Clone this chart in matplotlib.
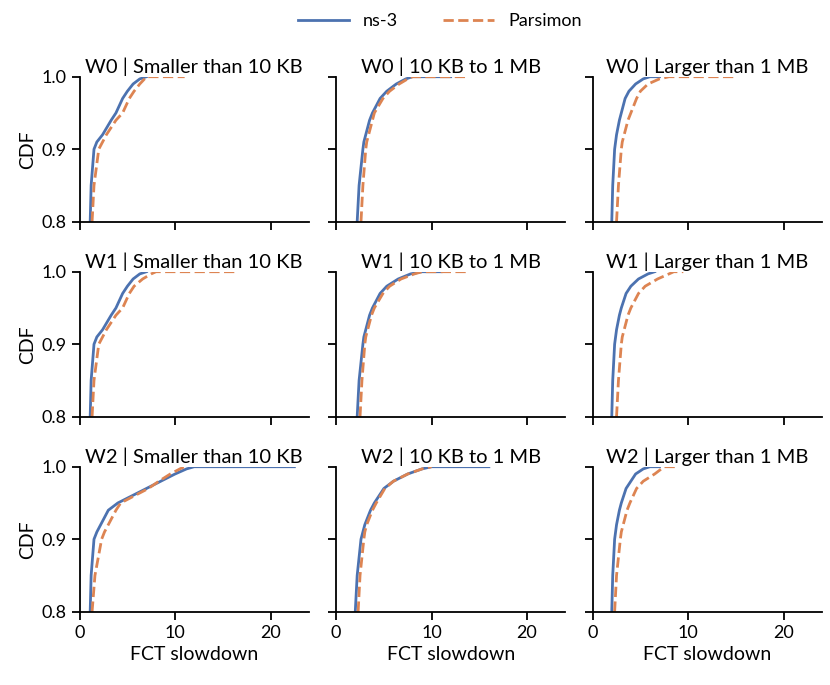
import matplotlib
matplotlib.use("Agg")
import matplotlib.pyplot as plt

levels = [0.8, 0.85, 0.9, 0.91, 0.92, 0.94, 0.95, 0.97, 0.98, 0.99, 0.997, 1.0, 1.0]
workloads = ["W0", "W1", "W2"]
buckets = ["Smaller than 10 KB", "10 KB to 1 MB", "Larger than 1 MB"]

ns3 = {
    ("W0", 0): [1.1, 1.2, 1.5, 1.8, 2.4, 3.3, 3.8, 4.5, 5.0, 5.6, 6.3, 7.0, 7.0],
    ("W0", 1): [2.2, 2.4, 2.8, 2.9, 3.1, 3.5, 3.8, 4.6, 5.3, 6.3, 7.3, 8.0, 12.0],
    ("W0", 2): [2.0, 2.1, 2.3, 2.4, 2.5, 2.8, 3.0, 3.4, 3.8, 4.5, 5.3, 6.0, 7.0],
    ("W1", 0): [1.1, 1.2, 1.5, 1.8, 2.4, 3.3, 3.8, 4.5, 5.0, 5.6, 6.3, 7.0, 7.0],
    ("W1", 1): [2.2, 2.4, 2.8, 2.9, 3.1, 3.5, 3.8, 4.6, 5.3, 6.5, 7.8, 9.0, 11.0],
    ("W1", 2): [2.0, 2.1, 2.3, 2.4, 2.5, 2.8, 3.0, 3.5, 4.0, 4.8, 5.8, 6.5, 6.5],
    ("W2", 0): [1.1, 1.2, 1.5, 1.8, 2.2, 3.0, 4.0, 7.0, 8.5, 10.0, 11.2, 12.0, 22.5],
    ("W2", 1): [2.0, 2.2, 2.6, 2.8, 3.0, 3.6, 4.0, 5.0, 6.0, 7.5, 9.0, 10.0, 16.0],
    ("W2", 2): [2.0, 2.1, 2.3, 2.4, 2.5, 2.8, 3.0, 3.5, 4.0, 4.5, 5.3, 6.0, 7.0],
}
pars = {
    ("W0", 0): [1.3, 1.5, 2.0, 2.4, 2.8, 3.8, 4.5, 5.2, 5.7, 6.3, 6.8, 7.0, 11.0],
    ("W0", 1): [2.6, 2.8, 3.1, 3.2, 3.4, 3.8, 4.0, 4.9, 5.6, 6.6, 7.5, 8.0, 13.5],
    ("W0", 2): [2.5, 2.7, 3.0, 3.1, 3.3, 3.7, 4.0, 4.6, 5.0, 5.8, 7.0, 8.0, 15.0],
    ("W1", 0): [1.3, 1.5, 2.0, 2.4, 2.8, 3.8, 4.5, 5.2, 5.7, 6.6, 7.5, 8.0, 16.5],
    ("W1", 1): [2.5, 2.7, 3.0, 3.1, 3.3, 3.7, 4.0, 4.9, 5.6, 6.8, 8.2, 9.0, 14.0],
    ("W1", 2): [2.5, 2.7, 3.0, 3.1, 3.3, 3.7, 4.0, 4.8, 5.5, 6.8, 8.0, 8.5, 9.5],
    ("W2", 0): [1.3, 1.6, 2.3, 2.6, 3.0, 3.8, 4.3, 7.2, 8.3, 9.5, 10.5, 11.0, 11.0],
    ("W2", 1): [2.3, 2.5, 2.9, 3.0, 3.2, 3.8, 4.2, 5.1, 6.0, 7.5, 9.0, 10.0, 10.0],
    ("W2", 2): [2.3, 2.5, 2.9, 3.0, 3.2, 3.6, 3.9, 4.6, 5.3, 6.5, 7.2, 7.5, 9.0],
}

blue = "#4C72B0"
orange = "#DD8452"
plt.rcParams["font.family"] = ["Lato", "DejaVu Sans"]
fig, axes = plt.subplots(3, 3, figsize=(8.3, 6.85), dpi=100, sharex=True, sharey=True)
fig.subplots_adjust(left=0.096, right=0.99, top=0.888, bottom=0.107, wspace=0.12, hspace=0.345)
for i, w in enumerate(workloads):
    for j, b in enumerate(buckets):
        ax = axes[i, j]
        l1, = ax.plot(ns3[(w, j)], levels, color=blue, lw=2, label="ns-3")
        l2, = ax.plot(pars[(w, j)], levels, color=orange, lw=2, ls="--", label="Parsimon")
        ax.set_title(f"{w} | {b}", fontsize=14.5, pad=3)
        ax.set_xlim(0, 24)
        ax.set_ylim(0.8, 1.0)
        ax.set_xticks([0, 10, 20])
        ax.set_yticks([0.8, 0.9, 1.0])
        ax.tick_params(labelsize=13, width=1.3, length=6)
        for s in ["top", "right"]:
            ax.spines[s].set_visible(False)
        for s in ["left", "bottom"]:
            ax.spines[s].set_linewidth(1.3)
        if j == 0:
            ax.set_ylabel("CDF", fontsize=14)
        if i == 2:
            ax.set_xlabel("FCT slowdown", fontsize=14)
fig.legend([l1, l2], ["ns-3", "Parsimon"], loc="upper center", ncol=2, frameon=False,
           fontsize=13, bbox_to_anchor=(0.53, 1.005), handlelength=2.8, columnspacing=2.5)
fig.savefig("out.png")
